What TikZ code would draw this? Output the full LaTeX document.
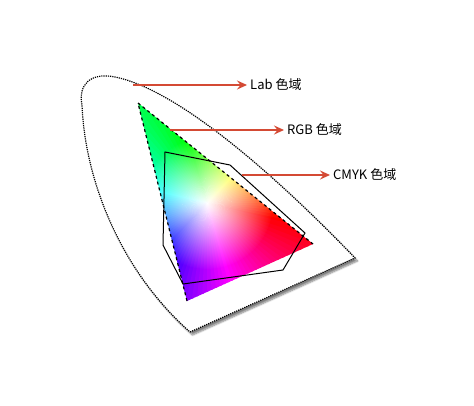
\documentclass[tikz,border=0pt]{standalone}
\usepackage{fontspec}
\newfontfamily\cjk{Noto Sans CJK SC}
\usetikzlibrary{calc,arrows.meta,fadings,shadows.blur}

\definecolor{arrowred}{RGB}{212,74,52}

\tikzfading[name=whitecenter, inner color=transparent!0, outer color=transparent!100]

\newcommand{\labpath}{%
(190,332) -- (355,258) .. controls (280,180) and (180,90) .. (115,77)
.. controls (90,72) and (78,85) .. (82,105)
.. controls (85,180) and (120,270) .. (190,332) -- cycle
}
\newcommand{\huewedge}[1]{%
\pgfmathsetmacro{\hv}{#1/360}
\definecolor{wedgecol}{hsb}{\hv,1,1}
\fill[wedgecol] (c) -- ($(c)+(15-#1:220)$) -- ($(c)+(11-#1:220)$) -- cycle;
}
\newcommand{\gamutlabel}[4]{%
\node[gamuttext] (#3) at (#1,#2) {#4};
}

\begin{document}
\begin{tikzpicture}[x=1pt,y=-1pt]
\tikzset{gamuttext/.style={anchor=west,inner sep=3pt,font=\cjk\fontsize{13}{15}\selectfont},
         gamutarrow/.style={draw=arrowred,line width=1.3pt,-{Stealth[length=10pt,width=9pt,inset=3.5pt]}}}

\useasboundingbox (0,0) rectangle (474,406);

% lab
\fill[white,blur shadow={shadow xshift=2.5pt,shadow yshift=-3pt,shadow opacity=50,shadow blur steps=6}] \labpath;
\draw[densely dotted,line width=1.2pt] \labpath;

% rgb
\coordinate (t1) at (138,103);
\coordinate (t2) at (313,244);
\coordinate (t3) at (187,301);
\coordinate (c) at (207,203);

\begin{scope}
\clip (t1) -- (t2) -- (t3) -- cycle;
\foreach \h in {0,3,...,357} {\huewedge{\h}}
\fill[white,path fading=whitecenter] (c) circle (66);
\end{scope}
\draw[dashed,line width=1.2pt] (t3) -- (t1) -- (t2);

% cmyk
\draw[line width=1pt] (165,152) -- (230,165) -- (305,233) -- (283,270) -- (183,284) -- (163,245) -- cycle;

% labels
\coordinate (labpt) at (133,85);
\coordinate (rgbpt) at (170,130);
\coordinate (cmykpt) at (242,175);

\gamutlabel{247}{85}{lablbl}{Lab 色域}
\gamutlabel{284}{130}{rgblbl}{RGB 色域}
\gamutlabel{330}{175}{cmyklbl}{CMYK 色域}

\draw[gamutarrow] (labpt) -- (lablbl.west);
\draw[gamutarrow] (rgbpt) -- (rgblbl.west);
\draw[gamutarrow] (cmykpt) -- (cmyklbl.west);

\end{tikzpicture}
\end{document}
